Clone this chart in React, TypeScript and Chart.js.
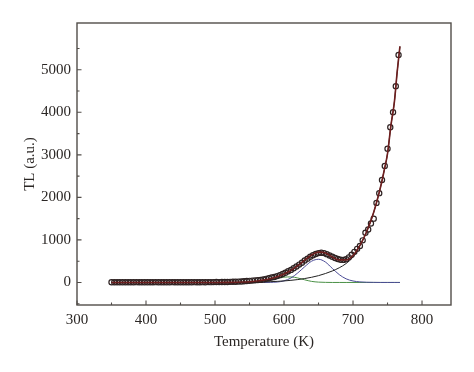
import React, { useEffect, useRef } from "react";
import { Chart, registerables } from "chart.js";

Chart.register(...registerables);

// Measured TL glow curve (temperature in K)
const temps = [
  350, 354, 358, 362, 366, 370, 374, 378, 382, 386,
  390, 394, 398, 402, 406, 410, 414, 418, 422, 426,
  430, 434, 438, 442, 446, 450, 454, 458, 462, 466,
  470, 474, 478, 482, 486, 490, 494, 498, 502, 506,
  510, 514, 518, 522, 526, 530, 534, 538, 542, 546,
  550, 554, 558, 562, 566, 570, 574, 578, 582, 586,
  590, 594, 598, 602, 606, 610, 614, 618, 622, 626,
  630, 634, 638, 642, 646, 650, 654, 658, 662, 666,
  670, 674, 678, 682, 686, 690, 694, 698, 702, 706,
  710, 714, 718, 722, 726, 730, 734, 738, 742, 746,
  750, 754, 758, 762, 766,
];
const tlValues = [
  5, 4, 5, 6, 5, 4, 5, 6, 5, 7,
  5, 4, 6, 5, 6, 5, 7, 5, 6, 5,
  6, 5, 7, 6, 5, 6, 4, 6, 5, 6,
  7, 5, 6, 7, 6, 8, 7, 8, 9, 8,
  10, 11, 12, 14, 16, 18, 20, 24, 28, 33,
  38, 44, 50, 55, 60, 72, 85, 100, 115, 130,
  150, 172, 198, 228, 262, 295, 335, 375, 420, 465,
  515, 560, 605, 640, 670, 690, 700, 690, 665, 635,
  605, 575, 550, 535, 530, 545, 590, 650, 720, 790,
  860, 990, 1170, 1245, 1385, 1500, 1870, 2100, 2410, 2740,
  3145, 3650, 4000, 4615, 5350,
];

// Fitted curves
const fitT = [
  350, 400, 450, 500, 520, 540, 550, 560, 570, 580,
  590, 600, 610, 620, 630, 640, 650, 660, 670, 680,
  690, 700, 710, 720, 730, 740, 745, 750, 755, 760,
  764, 768,
];
const fitGreen = [
  0, 0, 0, 0, 1, 6, 12, 25, 42, 68,
  100, 125, 130, 105, 62, 25, 8, 2, 0, 0,
  0, 0, 0, 0, 0, 0, 0, 0, 0, 0,
  0, 0,
];
const fitBlue = [
  0, 0, 0, 0, 0, 0, 0, 0, 0, 3,
  10, 38, 105, 225, 370, 500, 545, 480, 330, 185,
  85, 35, 13, 5, 2, 0, 0, 0, 0, 0,
  0, 0,
];
const fitBlack = [
  0, 0, 0, 0, 1, 3, 5, 8, 12, 18,
  26, 36, 50, 68, 92, 122, 160, 210, 270, 345,
  445, 600, 860, 1200, 1650, 2250, 2620, 3030, 3700, 4250,
  4950, 5550,
];
const fitTotal = [
  0, 0, 0, 0, 2, 9, 17, 33, 54, 89,
  136, 199, 285, 398, 524, 647, 713, 692, 600, 530,
  530, 635, 873, 1205, 1652, 2250, 2620, 3030, 3700, 4250,
  4950, 5550,
];

const xMajorTicks = [300, 400, 500, 600, 700, 800];
const xMinorTicks = [350, 450, 550, 650, 750];
const yMajorTicks = [0, 1000, 2000, 3000, 4000, 5000];
const yMinorTicks = [-500, 500, 1500, 2500, 3500, 4500, 5500];
const xTitle = "Temperature (K)";
const yTitle = "TL (a.u.)";

const FONT = "'Liberation Serif', 'DejaVu Serif', serif";
const AXIS_COLOR = "#524d49";
const TEXT_COLOR = "#2b2725";

const pairs = (xs: number[], ys: number[]) => xs.map((x, i) => ({ x, y: ys[i] }));

const frameTicksPlugin = {
  id: "frameTicks",
  afterDatasetsDraw(chart: any) {
    const { ctx, chartArea } = chart;
    const { left, right, top, bottom } = chartArea;
    const xs = chart.scales.x;
    const ys = chart.scales.y;
    ctx.save();
    ctx.strokeStyle = AXIS_COLOR;
    ctx.lineWidth = 1.4;
    ctx.strokeRect(left, top, right - left, bottom - top);
    ctx.lineWidth = 1.1;
    ctx.beginPath();
    xMajorTicks.forEach((v) => {
      const p = xs.getPixelForValue(v);
      ctx.moveTo(p, bottom);
      ctx.lineTo(p, bottom - 4.5);
    });
    xMinorTicks.forEach((v) => {
      const p = xs.getPixelForValue(v);
      ctx.moveTo(p, bottom);
      ctx.lineTo(p, bottom - 2.5);
    });
    yMajorTicks.forEach((v) => {
      const p = ys.getPixelForValue(v);
      ctx.moveTo(left, p);
      ctx.lineTo(left + 4.5, p);
    });
    yMinorTicks.forEach((v) => {
      const p = ys.getPixelForValue(v);
      ctx.moveTo(left, p);
      ctx.lineTo(left + 2.5, p);
    });
    ctx.stroke();
    ctx.restore();
  },
};

export default function App() {
  const canvasRef = useRef<HTMLCanvasElement | null>(null);

  useEffect(() => {
    const canvas = canvasRef.current;
    if (!canvas) return;
    const chart = new Chart(canvas, {
      type: "scatter",
      data: {
        datasets: [
          {
            type: "line",
            label: "Total fit",
            data: pairs(fitT, fitTotal),
            borderColor: "#6e1e1e",
            borderWidth: 1.6,
            pointRadius: 0,
            fill: false,
            cubicInterpolationMode: "monotone",
            order: 0,
          } as any,
          {
            type: "scatter",
            label: "TL",
            data: pairs(temps, tlValues),
            borderColor: "#2e2222",
            backgroundColor: "rgba(255,255,255,0)",
            borderWidth: 1.2,
            pointRadius: 2.6,
            order: 1,
          } as any,
          {
            type: "line",
            label: "Exponential",
            data: pairs(fitT, fitBlack),
            borderColor: "#222222",
            borderWidth: 1,
            pointRadius: 0,
            fill: false,
            cubicInterpolationMode: "monotone",
            order: 2,
          } as any,
          {
            type: "line",
            label: "Peak 2",
            data: pairs(fitT, fitBlue),
            borderColor: "#4c4c96",
            borderWidth: 1,
            pointRadius: 0,
            fill: false,
            cubicInterpolationMode: "monotone",
            order: 3,
          } as any,
          {
            type: "line",
            label: "Peak 1",
            data: pairs(fitT, fitGreen),
            borderColor: "#4a9046",
            borderWidth: 1,
            pointRadius: 0,
            fill: false,
            cubicInterpolationMode: "monotone",
            order: 4,
          } as any,
        ],
      },
      options: {
        responsive: false,
        animation: false,
        layout: { padding: { left: 0, top: 23, right: 23, bottom: 0 } },
        plugins: {
          legend: { display: false },
          tooltip: { enabled: false },
        },
        scales: {
          x: {
            type: "linear",
            min: 300,
            max: 842,
            grid: { display: false, drawTicks: false },
            border: { display: false },
            afterBuildTicks: (scale: any) => {
              scale.ticks = xMajorTicks.map((v) => ({ value: v }));
            },
            afterFit: (scale: any) => {
              scale.height = 67;
            },
            ticks: {
              padding: 6,
              color: TEXT_COLOR,
              font: { family: FONT, size: 15 },
              maxRotation: 0,
              callback: (v: any) => String(v),
            },
            title: {
              display: true,
              text: xTitle,
              color: TEXT_COLOR,
              font: { family: FONT, size: 15 },
              padding: { top: 0, bottom: 21 },
            },
          },
          y: {
            type: "linear",
            min: -530,
            max: 6100,
            grid: { display: false, drawTicks: false },
            border: { display: false },
            afterBuildTicks: (scale: any) => {
              scale.ticks = yMajorTicks.map((v) => ({ value: v }));
            },
            afterFit: (scale: any) => {
              scale.width = 77;
            },
            ticks: {
              padding: 6,
              color: TEXT_COLOR,
              font: { family: FONT, size: 15 },
              callback: (v: any) => String(v),
            },
            title: {
              display: true,
              text: yTitle,
              color: TEXT_COLOR,
              font: { family: FONT, size: 15 },
              padding: { top: 21, bottom: 0 },
            },
          },
        },
      } as any,
      plugins: [frameTicksPlugin],
    });
    return () => chart.destroy();
  }, []);

  return (
    <div style={{ position: "fixed", left: 0, top: 0, width: 474, height: 372, background: "#fff" }}>
      <canvas ref={canvasRef} width={474} height={372} style={{ width: 474, height: 372, display: "block" }} />
    </div>
  );
}
